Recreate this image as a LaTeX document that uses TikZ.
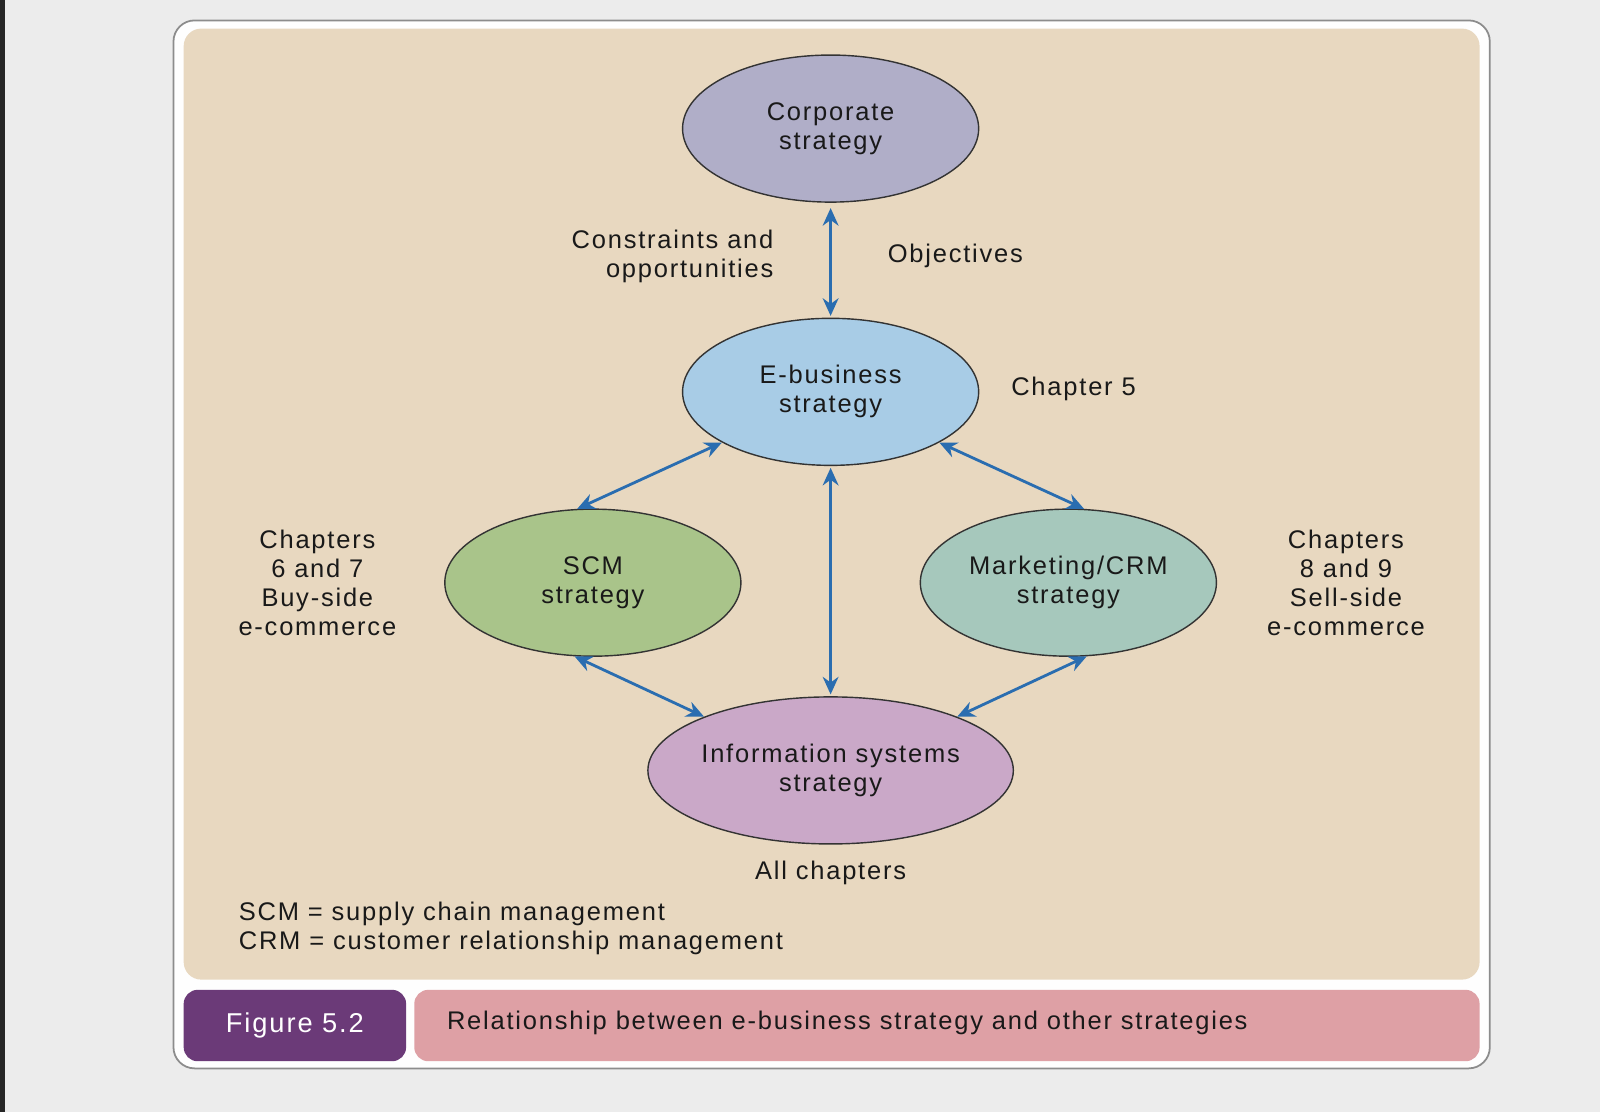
\documentclass[tikz,border=0pt]{standalone}
\usepackage{fontspec}
\setmainfont{Liberation Sans}[LetterSpace=7]
\usetikzlibrary{arrows.meta,shapes.geometric}
\definecolor{bg}{HTML}{ECECEC}
\definecolor{tan}{HTML}{E8D8C0}
\definecolor{corp}{HTML}{B0AEC8}
\definecolor{ebiz}{HTML}{A8CCE6}
\definecolor{scm}{HTML}{A9C48A}
\definecolor{mkt}{HTML}{A6C8BC}
\definecolor{isc}{HTML}{CAA8C8}
\definecolor{arr}{HTML}{2A6DB0}
\definecolor{figc}{HTML}{6B3A78}
\definecolor{capc}{HTML}{DEA0A5}
\begin{document}
\begin{tikzpicture}[x=0.020408cm,y=-0.020408cm,
  every node/.style={font=\fontsize{14.5}{16.5}\selectfont},
  lbl/.style={align=center,text=black!90},
  E/.style={ellipse,draw=black!80,line width=0.8pt,minimum width=5.92cm,minimum height=2.94cm,inner sep=0pt,align=center,text=black!90},
  bi/.style={draw=arr,line width=1.6pt,{Stealth[length=10pt,width=9pt]}-{Stealth[length=10pt,width=9pt]}}]
\fill[bg] (0,0) rectangle (1568,1090);
\fill[black!85] (0,0) rectangle (5,1090);
\draw[black!45,line width=1pt,fill=white!96!bg,rounded corners=12] (170,20) rectangle (1460,1047);
\fill[tan,rounded corners=10] (180,28) rectangle (1450,960);
\fill[figc,rounded corners=8] (180,970) rectangle (398,1040);
\fill[capc,rounded corners=8] (406,970) rectangle (1450,1040);
\node[text=white,font=\fontsize{15.5}{17}\selectfont] (fl) at (289,1005) {Figure 5.2};
\node[anchor=west,text=black!90] (ct) at (432,1002) {Relationship between e-business strategy and other strategies};
\node[E,fill=corp] (c) at (814,126) {Corporate\\strategy};
\node[E,fill=ebiz] (e) at (814,384) {E-business\\strategy};
\node[E,fill=scm] (s) at (581,571) {SCM\\strategy};
\node[E,fill=mkt] (m) at (1047,571) {Marketing/CRM\\strategy};
\node[E,fill=isc] (i) at (814,755) {Information systems\\strategy};
\draw[bi] ([yshift=-3pt]c.south) -- ([yshift=1pt]e.north);
\draw[bi] ([yshift=-1pt]e.south) -- ([yshift=1pt]i.north);
\draw[bi] (e.-155) -- (s.102);
\draw[bi] (e.-25) -- (m.78);
\draw[bi] (s.-104) -- (i.157);
\draw[bi] (m.-76) -- (i.23);
\node[lbl,align=right,anchor=east] (l1) at (764,251) {Constraints and\\opportunities};
\node[lbl,anchor=west] (l2) at (864,251) {Objectives};
\node[lbl,anchor=west] (l3) at (985,381) {Chapter 5};
\node[lbl] (l4) at (311,571) {Chapters\\6 and 7\\Buy-side\\e-commerce};
\node[lbl] (l5) at (1319,571) {Chapters\\8 and 9\\Sell-side\\e-commerce};
\node[lbl] (l6) at (814,855) {All chapters};
\node[lbl,align=left,anchor=west] (l7) at (228,910) {SCM = supply chain management\\CRM = customer relationship management};
\end{tikzpicture}
\end{document}
